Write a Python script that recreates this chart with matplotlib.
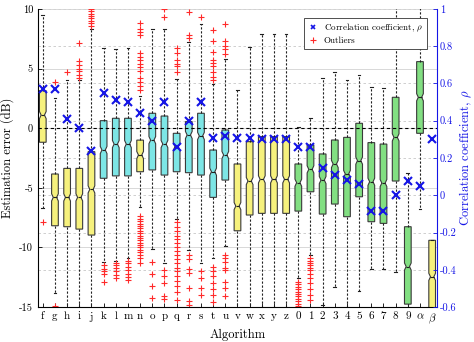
import matplotlib
matplotlib.use('Agg')
import matplotlib.pyplot as plt
import matplotlib.transforms as mtransforms
from matplotlib.lines import Line2D
import numpy as np

plt.rcParams['font.family'] = 'cmr10'
plt.rcParams['mathtext.fontset'] = 'cm'
plt.rcParams['axes.unicode_minus'] = False
plt.rcParams['axes.formatter.use_mathtext'] = True

# algorithm labels and colour group of each box (Y yellow, C cyan, G green)
algos = ['f', 'g', 'h', 'i', 'j', 'k', 'l', 'm', 'n', 'o', 'p', 'q', 'r', 's', 't', 'u',
         'v', 'w', 'x', 'y', 'z', '0', '1', '2', '3', '4', '5', '6', '7', '8', '9',
         r'$\alpha$', r'$\beta$']
groups = 'YYYYYCCCYCCCCCCCYYYYYGGGGGGGGGGGY'

# box statistics, estimation error in dB
q3 = [3.15, -3.84, -3.37, -3.37, -1.97, 0.63, 0.83, 0.83, -1.0, 1.25, 1.02, -0.43, 0.55,
      1.25, -1.83, -0.15, -3.0, -1.13, -0.71, -0.71, -0.71, -3.0, -1.41, -2.16, -0.99,
      -0.77, 0.41, -1.21, -1.33, 2.59, -8.26, 5.58, -9.4]
med = [1.1, -5.8, -5.8, -5.8, -5.13, -1.83, -1.33, -1.33, -2.25, -1.0, -1.33, -1.55, -0.57,
       -0.65, -3.65, -2.25, -6.53, -4.43, -4.29, -4.29, -4.29, -4.57, -3.45, -4.35, -3.0,
       -3.84, -2.72, -4.49, -4.6, -0.77, -11.6, 2.59, -12.46]
q1 = [-1.18, -8.18, -8.26, -8.46, -8.96, -4.2, -4.0, -4.0, -3.65, -3.5, -3.93, -3.65, -3.73,
      -3.93, -5.8, -4.35, -8.6, -7.28, -7.14, -7.14, -7.14, -6.95, -5.33, -7.2, -6.36,
      -7.42, -5.75, -7.84, -7.98, -4.43, -14.75, -0.43, -15.2]
whishi = [9.5, 2.5, 4.0, 4.0, 8.35, 6.7, 6.6, 6.7, 2.7, 8.3, 8.3, 4.1, 7.2, 8.7, 3.7, 5.8,
          3.2, 6.84, 7.9, 7.9, 7.9, 0.13, 0.83, 4.19, 4.74, 4.04, 4.46, 3.43, 3.35, 10.5,
          -3.78, 10.5, -9.4]
whislo = [-6.7, -13.8, -15.5, -15.5, -15.5, -11.2, -11.1, -10.9, -6.6, -10.16, -11.3, -7.6,
          -10.2, -11.3, -10.9, -9.9, -15.5, -15.5, -15.5, -15.5, -15.5, -12.6, -10.6, -14.8,
          -13.35, -15.5, -13.63, -11.84, -11.84, -12.04, -15.5, -6.8, -15.5]
outliers = [
    [-7.9],
    [3.9, -14.9],
    [4.7],
    [7.1, 5.6, 5.3, 5.0, 4.8, 4.5, 4.2],
    [9.95, 9.8, 9.6, 9.4, 9.2, 9.0, 8.8, 8.6],
    [-11.5, -11.8, -12.0, -12.2, -12.9],
    [-11.3, -11.5, -11.7, -12.0, -12.3, -12.6],
    [-11.1, -11.3, -11.6, -11.9, -12.2, -12.5, -12.7],
    [8.85, 8.3, 8.1, 7.8, 6.3, 6.0, 5.7, 5.4, 5.1, 4.8, 4.2, 3.9, 3.5, 3.2,
     -7.4, -7.6, -7.8, -8.0, -8.2, -8.4, -8.6, -8.8, -9.0, -9.2, -9.4, -9.6, -9.8,
     -10.0, -10.2, -10.4, -10.6, -10.9, -11.3],
    [-11.2, -12.2, -13.2, -14.2],
    [10.0, 9.3, -11.9, -12.4, -13.0, -14.1, -14.3],
    [6.7, 6.3, 5.7, 5.4, 5.2, 4.7, -7.9, -8.3, -8.6, -9.0, -9.3, -9.6, -10.0, -10.3,
     -10.6, -11.0, -11.3, -11.7, -12.0, -12.4, -12.8, -13.2, -13.7, -14.4],
    [9.7, 7.8, 7.6, -10.6, -11.0, -11.8, -12.1, -13.4, -14.5, -14.8],
    [9.35, -12.0, -12.6, -13.4, -14.0],
    [8.2, 7.3, 6.4, 5.7, 5.5, 5.2, 4.7, 4.3, 4.0, -11.6, -12.0, -12.4, -13.0, -13.5,
     -14.0, -14.6],
    [8.7, 7.3, 6.9, 6.6, 6.2, -10.6, -10.9, -11.2, -11.75, -11.9, -12.9, -13.4, -14.1],
    [], [], [], [], [],
    [-12.9, -13.1, -13.3, -13.5, -13.7, -13.9, -14.1, -14.3, -14.5, -14.7, -14.9],
    [-10.9, -11.1, -11.3, -11.5, -11.7, -11.9, -12.2, -12.6, -13.0, -13.5, -14.0, -14.4],
    [], [], [], [], [], [], [], [], [], [],
]

# correlation coefficient of each algorithm
rho = [0.57, 0.57, 0.41, 0.36, 0.24, 0.55, 0.51, 0.50, 0.44, 0.40, 0.50, 0.26, 0.40, 0.50,
       0.31, 0.32, 0.31, 0.31, 0.30, 0.30, 0.30, 0.26, 0.26, 0.145, 0.11, 0.08, 0.06,
       -0.085, -0.085, 0.0, 0.077, 0.05, 0.30]

colours = {'Y': '#f6f17d', 'C': '#7de6e6', 'G': '#82df82'}
blue = '#1515e6'

pos = np.arange(1, len(algos) + 1)
stats = []
for i in range(len(algos)):
    stats.append({'med': med[i], 'q1': q1[i], 'q3': q3[i],
                  'whislo': whislo[i], 'whishi': whishi[i],
                  'fliers': outliers[i],
                  'cilo': med[i] - 0.3, 'cihi': med[i] + 0.3})

fig = plt.figure(figsize=(4.74, 3.42), dpi=100)
ax = fig.add_axes([0.080, 0.102, 0.842, 0.872])
ax2 = ax.twinx()
ax2.set_ylim(-0.6, 1)

# grids of both axes, kept underneath the boxes
ax.set_axisbelow(True)
ax.yaxis.grid(True, color='#d2d2d2', lw=0.6, ls='-')
rticks = [1, 0.8, 0.6, 0.4, 0.2, 0, -0.2, -0.4, -0.6]
trans = mtransforms.blended_transform_factory(ax.transAxes, ax2.transData)
for r in rticks:
    ax.plot([0, 1], [r, r], transform=trans, color='#c8c8c8', lw=0.6,
            ls=(0, (3, 3)), zorder=0.5)

bp = ax.bxp(stats, positions=pos, widths=0.55, patch_artist=True, shownotches=True,
            capwidths=0.22,
            boxprops=dict(edgecolor='#3a3a3a', linewidth=0.8),
            whiskerprops=dict(color='#202020', linewidth=0.8, linestyle=(0, (2, 1.6))),
            capprops=dict(color='#202020', linewidth=0.8),
            medianprops=dict(color='#202020', linewidth=0.8),
            flierprops=dict(marker='+', markeredgecolor='#ff2a2a', markersize=4,
                            markeredgewidth=0.8, linestyle='none'))
for box, g in zip(bp['boxes'], groups):
    box.set_facecolor(colours[g])

ax.axhline(0, color='k', lw=0.8, ls=(0, (3, 2.5)), zorder=3)

ax.set_xlim(0.6, 33.4)
ax.set_ylim(-15, 10)
ax.set_xticks(pos)
ax.set_xticklabels(algos, fontsize=8)
ax.set_yticks([-15, -10, -5, 0, 5, 10])
ax.set_yticklabels(['-15', '-10', '-5', '0', '5', '10'], fontsize=7.5)
ax.tick_params(direction='in', length=3, width=0.6)
ax.set_xlabel('Algorithm', fontsize=9, labelpad=2)
ax.set_ylabel('Estimation error (dB)', fontsize=9, labelpad=4)
ax.spines['top'].set_visible(False)
ax.spines['right'].set_visible(False)

# correlation coefficient on the right axis
ax2.plot(pos, rho, linestyle='none', marker='x', color=blue, markersize=6,
         markeredgewidth=1.5, zorder=5)
ax2.set_yticks(rticks)
ax2.set_yticklabels(['1', '0.8', '0.6', '0.4', '0.2', '0', '-0.2', '-0.4', '-0.6'],
                    fontsize=7.5, color=blue)
ax2.tick_params(direction='in', length=3, width=0.6, colors=blue, pad=2)
ax2.set_ylabel(r'Correlation coefficient, $\rho$', fontsize=9, color=blue, labelpad=1)
ax2.spines['right'].set_color(blue)
ax2.spines['top'].set_visible(False)
ax2.spines['left'].set_visible(False)
ax2.spines['bottom'].set_visible(False)

handles = [Line2D([], [], linestyle='none', marker='x', color=blue, markersize=3.5,
                  markeredgewidth=1.2),
           Line2D([], [], linestyle='none', marker='+', markeredgecolor='#ff2a2a',
                  markersize=4, markeredgewidth=0.8)]
leg = ax2.legend(handles, [r'Correlation coefficient, $\rho$', 'Outliers'],
                 loc='upper right', bbox_to_anchor=(0.985, 0.985), fontsize=6.5,
                 fancybox=False, framealpha=1, edgecolor='#333333', handlelength=1.2,
                 borderpad=0.4, labelspacing=0.3, handletextpad=0.6)
leg.get_frame().set_linewidth(0.6)

fig.savefig('out.png', dpi=100)
